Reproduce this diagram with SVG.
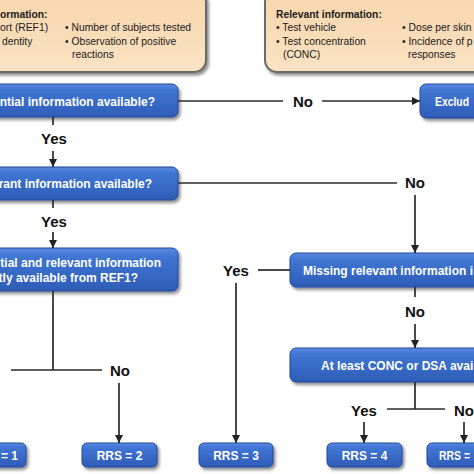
<svg xmlns="http://www.w3.org/2000/svg" width="474" height="474" viewBox="0 0 474 474">
<defs>
<linearGradient id="blue" x1="0" y1="0" x2="0" y2="1">
<stop offset="0" stop-color="#5a8ae0"/>
<stop offset="0.18" stop-color="#4176d4"/>
<stop offset="1" stop-color="#2d5cb6"/>
</linearGradient>
<linearGradient id="tan" x1="0" y1="0" x2="0" y2="1">
<stop offset="0" stop-color="#f6d6ac"/>
<stop offset="1" stop-color="#fae2c3"/>
</linearGradient>
<filter id="sh" x="-20%" y="-30%" width="140%" height="170%">
<feDropShadow dx="2" dy="2.5" stdDeviation="1.5" flood-color="#000" flood-opacity="0.45"/>
</filter>
<marker id="ah" viewBox="0 0 10 10" refX="10" refY="5" markerWidth="8" markerHeight="9" markerUnits="userSpaceOnUse" orient="auto">
<path d="M0,0 L10,5 L0,10 z" fill="#222"/>
</marker>
<style>
.info{fill:url(#tan);stroke:#6a6a6a;stroke-width:2;filter:url(#sh)}
.box{fill:url(#blue);stroke:#24489a;stroke-width:1;filter:url(#sh)}
.bt{font-family:"Liberation Sans",Arial,sans-serif;font-size:12px;font-weight:bold;fill:#fff}
.it{font-family:"Liberation Sans",Arial,sans-serif;font-size:10.3px;fill:#1a1a1a}
.ih{font-weight:bold}
.lb{font-family:"Liberation Sans",Arial,sans-serif;font-size:15px;font-weight:bold;fill:#111;text-anchor:middle}
.ln{stroke:#2a2a2a;stroke-width:1.7;fill:none}
.ar{marker-end:url(#ah)}
</style>
</defs>
<rect width="474" height="474" fill="#fff"/>

<g id="info-essential">
<rect class="info" x="-20" y="-10" width="226" height="82" rx="12"/>
<text class="it ih" x="0" y="18">ormation:</text>
<text class="it" x="0" y="31">ort (REF1)</text>
<text class="it" x="2" y="44.5">dentity</text>
<text class="it" x="65" y="31">• Number of subjects tested</text>
<text class="it" x="65" y="44.5">• Observation of positive</text>
<text class="it" x="72" y="58">reactions</text>
</g>

<g id="info-relevant">
<rect class="info" x="265" y="-10" width="240" height="82" rx="12"/>
<text class="it ih" x="276" y="18">Relevant information:</text>
<text class="it" x="276" y="31">• Test vehicle</text>
<text class="it" x="276" y="44.5">• Test concentration</text>
<text class="it" x="283" y="58">(CONC)</text>
<text class="it" x="402" y="31">• Dose per skin</text>
<text class="it" x="402" y="44.5">• Incidence of p</text>
<text class="it" x="408" y="58">responses</text>
</g>

<g id="q-essential">
<rect class="box" x="-20" y="84" width="198" height="33" rx="6"/>
<text class="bt" x="155" y="106" text-anchor="end">ntial information available?</text>
</g>

<g id="exclude">
<rect class="box" x="420" y="84" width="80" height="34" rx="6"/>
<text class="bt" x="435" y="106" textLength="34" lengthAdjust="spacingAndGlyphs">Exclud</text>
</g>

<g id="q-relevant">
<rect class="box" x="-20" y="167" width="198" height="33" rx="6"/>
<text class="bt" x="152" y="188" text-anchor="end">rant information available?</text>
</g>

<g id="q-ref1">
<rect class="box" x="-20" y="248" width="198" height="43" rx="6"/>
<text class="bt" x="161" y="267" text-anchor="end">tial and relevant information</text>
<text class="bt" x="138" y="282" text-anchor="end">tly available from REF1?</text>
</g>

<g id="q-missing">
<rect class="box" x="290" y="253" width="210" height="34" rx="6"/>
<text class="bt" x="303" y="275">Missing relevant information i</text>
</g>

<g id="q-conc">
<rect class="box" x="290" y="348" width="210" height="34" rx="6"/>
<text class="bt" x="321" y="370">At least CONC or DSA avai</text>
</g>

<g id="rrs1">
<rect class="box" x="-30" y="443" width="56" height="24" rx="5"/>
<text class="bt" x="1" y="460">= 1</text>
</g>
<g id="rrs2">
<rect class="box" x="82" y="443" width="75" height="24" rx="5"/>
<text class="bt" x="119.5" y="460" text-anchor="middle">RRS = 2</text>
</g>
<g id="rrs3">
<rect class="box" x="199" y="443" width="74" height="24" rx="5"/>
<text class="bt" x="236" y="460" text-anchor="middle">RRS = 3</text>
</g>
<g id="rrs4">
<rect class="box" x="327" y="443" width="75" height="24" rx="5"/>
<text class="bt" x="364.5" y="460" text-anchor="middle">RRS = 4</text>
</g>
<g id="rrs5">
<rect class="box" x="427" y="443" width="60" height="24" rx="5"/>
<text class="bt" x="439" y="460" textLength="31" lengthAdjust="spacingAndGlyphs">RRS =</text>
</g>

<g id="connectors">
<line class="ln" x1="178" y1="101" x2="283" y2="101"/>
<line class="ln ar" x1="322" y1="101" x2="420" y2="101"/>
<text class="lb" x="303" y="107">No</text>

<line class="ln" x1="53" y1="117" x2="53" y2="125"/>
<text class="lb" x="54" y="144">Yes</text>
<line class="ln ar" x1="53" y1="151" x2="53" y2="167"/>

<line class="ln" x1="178" y1="183" x2="397" y2="183"/>
<text class="lb" x="415" y="188">No</text>
<line class="ln ar" x1="415" y1="195" x2="415" y2="253"/>

<line class="ln" x1="53" y1="200" x2="53" y2="208"/>
<text class="lb" x="54" y="227">Yes</text>
<line class="ln ar" x1="53" y1="232" x2="53" y2="248"/>

<line class="ln" x1="290" y1="270" x2="258" y2="270"/>
<text class="lb" x="236" y="276">Yes</text>
<line class="ln ar" x1="236" y1="283" x2="236" y2="443"/>

<line class="ln" x1="53" y1="291" x2="53" y2="370"/>
<line class="ln" x1="11" y1="370" x2="102" y2="370"/>
<text class="lb" x="120" y="376">No</text>
<line class="ln ar" x1="119" y1="383" x2="119" y2="443"/>

<line class="ln" x1="415" y1="287" x2="415" y2="297"/>
<text class="lb" x="415" y="317">No</text>
<line class="ln ar" x1="415" y1="324" x2="415" y2="348"/>

<line class="ln" x1="415" y1="382" x2="415" y2="409"/>
<line class="ln" x1="387" y1="409" x2="445" y2="409"/>
<text class="lb" x="364" y="416">Yes</text>
<line class="ln ar" x1="364" y1="422" x2="364" y2="443"/>
<text class="lb" x="464" y="416">No</text>
<line class="ln ar" x1="464" y1="422" x2="464" y2="443"/>
</g>
</svg>
